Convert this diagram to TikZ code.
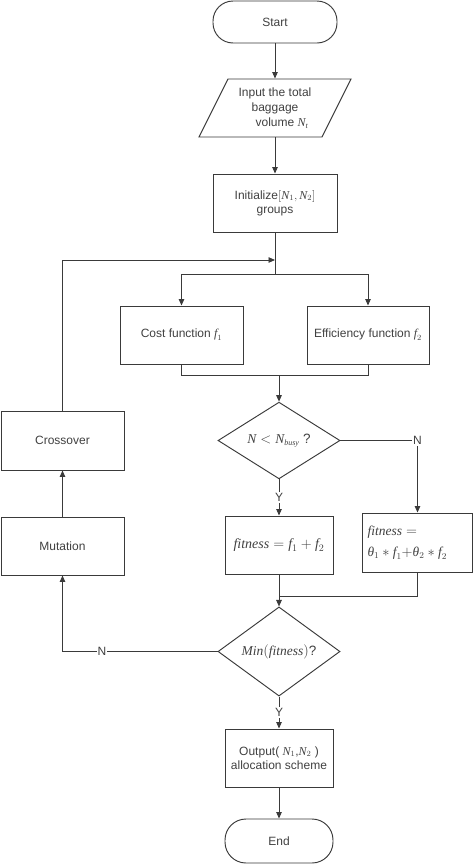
\documentclass[tikz,border=0pt]{standalone}
\usepackage{fontspec}
\setmainfont{Liberation Sans}
\newfontfamily\tms{Liberation Serif}
\newcommand\iv[1]{\mbox{\tms\itshape #1}}
\newcommand\ivs[1]{\mbox{\fontsize{8}{8}\selectfont\tms\itshape #1}}
\usetikzlibrary{arrows.meta,shapes.geometric}
\definecolor{ln}{HTML}{3A3A3A}
\definecolor{tx}{HTML}{404040}
\begin{document}
\begin{tikzpicture}[x=1pt,y=-1pt,color=ln,line width=0.95pt,
  box/.style={draw=ln,text=tx,font=\fontsize{12}{14.5}\selectfont,align=center,inner sep=0pt,minimum width=#1,minimum height=58pt},
  box/.default=123pt,
  term/.style={box=#1,rounded corners=20pt,minimum height=42pt},
  dec/.style={draw=ln,text=tx,shape=diamond,inner sep=0pt,minimum width=122pt,minimum height=73pt,font=\fontsize{13.5}{15}\selectfont},
  arr/.style={-{Triangle[length=6.5pt,width=5.5pt]}},
  lbl/.style={fill=white,text=tx,font=\fontsize{12}{13}\selectfont,inner sep=1pt}]
\useasboundingbox (0,0) rectangle (474,865);
% nodes
\node[term=124pt] (start) at (275,22) {Start};
\draw (228,79) -- (351,79) -- (322,137) -- (199,137) -- cycle;
\node[text=tx,font=\fontsize{12}{15}\selectfont,align=center,inner sep=0pt,minimum width=100pt,minimum height=58pt] (inp) at (275,108) {Input the total\\baggage\\\hspace*{14pt}volume $\iv{N}_{\ivs{t}}$};
\node[box=124pt] (init) at (275,203) {Initialize$[\iv{N}_1, \iv{N}_2]$\\groups};
\node[box=123pt] (cost) at (181.5,335) {Cost function $\iv{f}_1$};
\node[box=122pt] (eff) at (368,335) {Efficiency function $\iv{f}_2$};
\node[dec] (d1) at (279,440.5) {$\iv{N} < \iv{N}_{\ivs{busy}}$ ?};
\node[box=108pt,font=\fontsize{14}{16}\selectfont] (fa) at (279,545) {$\iv{fitness} = \iv{f}_1 + \iv{f}_2$};
\node[box=110pt,font=\fontsize{13.5}{21}\selectfont,align=left,text width=100pt,minimum height=59pt] (fb) at (417.5,542.5) {$\iv{fitness} =$\\$\iv{θ}_1 * \iv{f}_1 {+} \iv{θ}_2 * \iv{f}_2$};
\node[box=123pt,minimum height=59pt] (cro) at (62.5,440.5) {Crossover};
\node[box=123pt] (mut) at (62.5,546) {Mutation};
\node[dec] (d2) at (279,651.5) {$\iv{Min}(\iv{fitness})$?};
\node[box=108pt] (out) at (279,758) {Output( $\iv{N}_1$,$\iv{N}_2$ )\\allocation scheme};
\node[term=108pt,minimum height=44pt,rounded corners=21pt] (end) at (279,841) {End};
% coordinates
\coordinate (sp) at (275,274);
\coordinate (spl) at (181.5,274);
\coordinate (spr) at (368,274);
\coordinate (fbk) at (275,260);
\coordinate (fbl) at (62.5,260);
\coordinate (mgl) at (181.5,375);
\coordinate (mgr) at (368,375);
\coordinate (mg) at (279,375);
\coordinate (nc) at (417.5,440.5);
\coordinate (mg2) at (279,596);
\coordinate (mg2r) at (417.5,596);
\coordinate (nc2) at (62.5,651.5);
% connectors
\draw[arr] (start.south) -- (inp.north);
\draw[arr] (inp.south) -- (init.north);
\draw (init.south) -- (sp);
\draw (spl) -- (spr);
\draw[arr] (spl) -- (cost.north);
\draw[arr] (spr) -- (eff.north);
\draw (cost.south) -- (mgl) -- (mgr) -- (eff.south);
\draw[arr] (mg) -- (d1.north);
\draw (d1.east) -- (nc);
\draw[arr] (nc) -- (fb.north);
\draw[arr] (d1.south) -- (fa.north) node[lbl,midway] {Y};
\draw (fa.south) -- (mg2);
\draw (fb.south) -- (mg2r) -- (mg2);
\draw[arr] (mg2) -- (d2.north);
\draw (d2.west) -- (nc2);
\draw[arr] (nc2) -- (mut.south);
\draw[arr] (d2.south) -- (out.north) node[lbl,midway] {Y};
\draw[arr] (out.south) -- (end.north);
\draw[arr] (mut.north) -- (cro.south);
\draw[arr] (cro.north) -- (fbl) -- (fbk);
\node[lbl] (nlab) at (nc) {N};
\node[lbl] (nlab2) at (102,651.5) {N};
\end{tikzpicture}
\end{document}
